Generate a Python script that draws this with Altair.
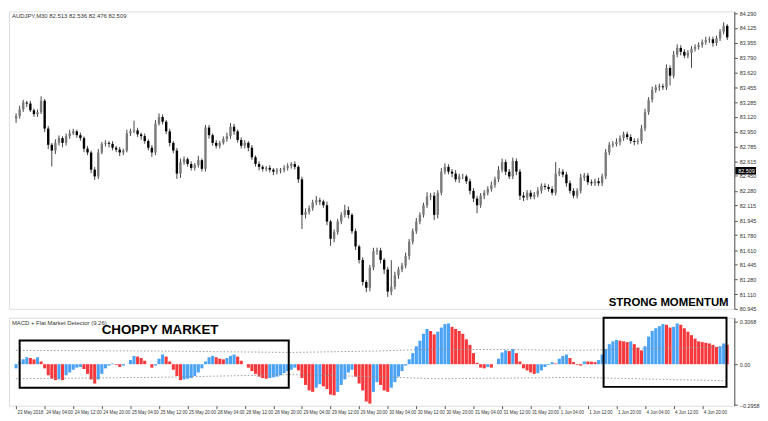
import altair as alt
import pandas as pd

# ---------------- data ----------------
first_open = 83.10
closes = [
    83.128, 83.204, 83.280, 83.269, 83.193, 83.149, 83.171, 83.301, 82.986, 82.802,
    82.737, 82.824, 82.878, 82.824, 82.900, 82.932, 82.954, 82.911, 82.878, 82.758,
    82.715, 82.520, 82.444, 82.715, 82.813, 82.824, 82.813, 82.769, 82.748, 82.715,
    82.737, 82.932, 82.954, 82.965, 82.921, 82.900, 82.845, 82.769, 82.715, 83.041,
    83.117, 83.063, 82.954, 82.824, 82.737, 82.476, 82.606, 82.639, 82.585, 82.541,
    82.574, 82.628, 82.530, 82.997, 82.911, 82.824, 82.791, 82.824, 82.867, 82.900,
    83.008, 82.954, 82.856, 82.791, 82.824, 82.769, 82.661, 82.585, 82.552, 82.530,
    82.541, 82.520, 82.498, 82.509, 82.520, 82.541, 82.563, 82.585, 82.552, 82.411,
    82.009, 82.042, 82.085, 82.150, 82.172, 82.161, 82.118, 81.933, 81.738, 81.814,
    81.933, 82.009, 82.063, 82.009, 81.824, 81.651, 81.499, 81.249, 81.184, 81.412,
    81.597, 81.607, 81.499, 81.390, 81.140, 81.195, 81.325, 81.390, 81.434, 81.542,
    81.705, 81.824, 81.933, 82.009, 82.118, 82.215, 82.226, 82.009, 82.259, 82.498,
    82.552, 82.498, 82.476, 82.411, 82.444, 82.444, 82.389, 82.281, 82.194, 82.118,
    82.226, 82.259, 82.302, 82.346, 82.411, 82.520, 82.606, 82.498, 82.444, 82.617,
    82.498, 82.226, 82.205, 82.259, 82.215, 82.237, 82.281, 82.335, 82.324, 82.302,
    82.259, 82.476, 82.498, 82.465, 82.367, 82.281, 82.226, 82.281, 82.433, 82.454,
    82.378, 82.367, 82.389, 82.367, 82.444, 82.715, 82.802, 82.813, 82.835, 82.878,
    82.921, 82.889, 82.845, 82.835, 82.845, 82.987, 83.171, 83.312, 83.421, 83.453,
    83.464, 83.453, 83.671, 83.584, 83.823, 83.899, 83.855, 83.812, 83.844, 83.888,
    83.910, 83.931, 83.964, 83.986, 83.996, 83.953, 84.007, 84.083, 84.149, 84.018,
]
# wick lengths beyond the body, in hundredths of a yen
upper_wick = [
    3, 4, 3, 2, 3, 2, 3, 5, 2, 3,   2, 4, 3, 2, 3, 4, 3, 2, 3, 2,
    3, 2, 3, 4, 2, 3, 2, 3, 2, 3,   2, 4, 3, 11, 3, 2, 3, 2, 3, 4,
    4, 3, 2, 3, 2, 3, 4, 3, 2, 3,   2, 5, 2, 3, 3, 2, 3, 2, 3, 4,
    4, 3, 2, 3, 3, 2, 3, 2, 3, 2,   2, 3, 2, 3, 2, 3, 3, 2, 3, 2,
    3, 4, 3, 3, 5, 3, 2, 4, 2, 3,   3, 3, 6, 4, 2, 3, 2, 3, 2, 3,
    4, 3, 3, 2, 3, 30, 4, 3, 3, 4,  3, 3, 4, 3, 3, 5, 3, 4, 3, 4,
    4, 3, 3, 4, 3, 3, 2, 3, 3, 3,   3, 3, 3, 4, 3, 4, 4, 3, 3, 4,
    3, 3, 4, 3, 3, 3, 4, 3, 3, 3,   3, 13, 4, 3, 3, 3, 3, 3, 4, 3,
    3, 3, 3, 4, 3, 4, 3, 3, 4, 3,   3, 3, 3, 3, 3, 4, 4, 3, 4, 3,
    3, 3, 4, 3, 4, 4, 3, 3, 3, 3,   3, 3, 3, 4, 3, 3, 3, 3, 4, 2,
]
lower_wick = [
    5, 3, 3, 4, 2, 3, 3, 2, 4, 5,   18, 4, 3, 5, 3, 3, 2, 3, 3, 4,
    3, 4, 4, 3, 2, 3, 4, 3, 3, 4,   3, 2, 3, 2, 3, 4, 3, 3, 5, 3,
    2, 3, 3, 4, 3, 6, 5, 3, 3, 3,   3, 3, 3, 3, 4, 3, 3, 3, 2, 3,
    3, 4, 3, 3, 3, 4, 3, 3, 4, 3,   3, 3, 4, 3, 3, 3, 3, 3, 3, 4,
    16, 4, 3, 3, 3, 4, 3, 4, 8, 4,  3, 3, 3, 4, 3, 4, 4, 4, 5, 4,
    3, 4, 4, 5, 6, 4, 3, 4, 3, 3,   4, 3, 3, 3, 3, 3, 4, 6, 4, 3,
    3, 3, 4, 3, 4, 3, 3, 4, 4, 9,   3, 4, 3, 3, 3, 3, 3, 4, 3, 3,
    4, 5, 4, 3, 3, 3, 3, 3, 3, 3,   3, 3, 3, 3, 4, 3, 3, 3, 3, 4,
    3, 3, 3, 3, 3, 3, 3, 3, 3, 4,   3, 3, 3, 4, 3, 3, 3, 3, 3, 3,
    4, 3, 3, 11, 3, 3, 4, 3, 3, 17, 3, 3, 3, 3, 3, 4, 3, 3, 3, 3,
]
macd = [
    -0.03, 0.02, 0.035, 0.05, 0.045, 0.035, 0.05, 0.02, -0.03, -0.08,
    -0.105, -0.115, -0.11, -0.115, -0.08, -0.06, -0.04, -0.025, -0.02, -0.035,
    -0.07, -0.11, -0.14, -0.11, -0.07, -0.03, -0.01, 0.005, -0.005, -0.02,
    -0.01, 0.0, 0.03, 0.06, 0.055, 0.045, 0.025, 0.0, -0.025, -0.01,
    0.04, 0.07, 0.055, 0.02, -0.04, -0.085, -0.115, -0.11, -0.105, -0.1,
    -0.085, -0.06, -0.03, 0.02, 0.05, 0.06, 0.05, 0.04, 0.035, 0.045,
    0.06, 0.07, 0.055, 0.025, 0.0, -0.025, -0.05, -0.07, -0.09, -0.1,
    -0.105, -0.1, -0.095, -0.09, -0.08, -0.065, -0.05, -0.04, -0.025, -0.045,
    -0.1, -0.15, -0.19, -0.2, -0.17, -0.145, -0.16, -0.18, -0.22, -0.225,
    -0.2, -0.15, -0.11, -0.06, -0.04, -0.09, -0.14, -0.19, -0.27, -0.285,
    -0.2, -0.13, -0.15, -0.19, -0.2, -0.17, -0.13, -0.09, -0.05, -0.01,
    0.035, 0.08, 0.13, 0.17, 0.22, 0.255, 0.24, 0.215, 0.235, 0.265,
    0.29, 0.295, 0.27, 0.255, 0.24, 0.22, 0.18, 0.14, 0.08, 0.01,
    -0.025, -0.03, -0.02, -0.025, 0.0, 0.04, 0.085, 0.1, 0.095, 0.11,
    0.08, 0.02, -0.03, -0.045, -0.06, -0.07, -0.065, -0.045, -0.02, -0.005,
    0.015, 0.005, 0.04, 0.06, 0.07, 0.045, 0.015, -0.005, -0.01, 0.02,
    0.02, 0.018, 0.015, 0.03, 0.07, 0.11, 0.145, 0.165, 0.175, 0.17,
    0.165, 0.16, 0.165, 0.145, 0.12, 0.1, 0.13, 0.2, 0.24, 0.26,
    0.275, 0.29, 0.285, 0.265, 0.27, 0.295, 0.285, 0.26, 0.235, 0.21,
    0.185, 0.165, 0.16, 0.155, 0.15, 0.14, 0.125, 0.13, 0.15, 0.14,
]
band_idx = [0, 40, 77, 100, 117, 140, 157, 181, 199]
band_upper = [0.10, 0.095, 0.085, 0.095, 0.108, 0.105, 0.10, 0.115, 0.125]
band_lower = [-0.105, -0.095, -0.075, -0.09, -0.105, -0.10, -0.095, -0.11, -0.12]

price_ticks = [84.290, 84.125, 83.955, 83.790, 83.620, 83.455, 83.285, 83.120, 82.950,
               82.785, 82.615, 82.450, 82.280, 82.115, 81.945, 81.780, 81.610, 81.445,
               81.280, 81.110, 80.945]
macd_ticks = [0.3068, 0.0, -0.2958]
time_labels = ["23 May 2018", "24 May 04:00", "24 May 12:00", "24 May 20:00",
               "25 May 04:00", "25 May 12:00", "25 May 20:00", "28 May 04:00",
               "28 May 12:00", "28 May 20:00", "29 May 04:00", "29 May 12:00",
               "29 May 20:00", "30 May 04:00", "30 May 12:00", "30 May 20:00",
               "31 May 04:00", "31 May 12:00", "31 May 20:00", "1 Jun 04:00",
               "1 Jun 12:00", "1 Jun 20:00", "4 Jun 04:00", "4 Jun 12:00", "4 Jun 20:00"]
label_step = 8
current_price = 82.509
header = "AUDJPY,M30  82.513 82.536 82.476 82.509"
macd_title = "MACD + Flat Market Detector (9.26)"

# annotation boxes (bar index / MACD value)
box_x1 = [1.0, 164.4]
box_x2 = [76.3, 198.8]
box_y1 = [-0.171, -0.164]
box_y2 = [0.171, 0.336]

# ---------------- build tables ----------------
n = len(closes)
opens = [first_open] + closes[:-1]
rows = []
for i in range(n):
    o, c = opens[i], closes[i]
    rows.append(dict(i=i, open=o, close=c,
                     high=max(o, c) + upper_wick[i] / 100.0,
                     low=min(o, c) - lower_wick[i] / 100.0,
                     bull=bool(c >= o)))
df = pd.DataFrame(rows)

mrows = []
for i in range(n):
    prev = macd[i - 1] if i > 0 else macd[i] - 0.01
    mrows.append(dict(i=i, v=macd[i], rising=bool(macd[i] > prev)))
mdf = pd.DataFrame(mrows)

bdf = pd.DataFrame({"i": band_idx * 2,
                    "v": band_upper + band_lower,
                    "band": ["upper"] * len(band_idx) + ["lower"] * len(band_idx)})
boxdf = pd.DataFrame({"x1": box_x1, "x2": box_x2, "y1": box_y1, "y2": box_y2})

W = 734
H1 = 301
H2 = 89
FONT = "Liberation Sans"

xscale = alt.Scale(domain=[-0.6, n - 0.4], nice=False, zero=False)
pscale = alt.Scale(domain=[80.945, 84.312], nice=False, zero=False)
mscale = alt.Scale(domain=[-0.30, 0.336], nice=False, zero=False)

# ---------------- price panel ----------------
pbase = alt.Chart(df)
wicks = pbase.mark_rule(color="#2e2e2e", strokeWidth=0.9).encode(
    x=alt.X("i:Q", scale=xscale, axis=None),
    y=alt.Y("low:Q", scale=pscale, title=None,
            axis=alt.Axis(orient="right", values=price_ticks, tickCount=100, format=".3f",
                          labelFontSize=5.5, labelFont=FONT, labelColor="#333",
                          labelOverlap=False, labelBound=False,
                          tickSize=3, tickColor="#555", domainColor="#555",
                          labelPadding=2, grid=False)),
    y2="high:Q",
)
bodies = pbase.mark_bar(size=2.4).encode(
    x="i:Q",
    y="open:Q",
    y2="close:Q",
    color=alt.condition("datum.bull", alt.value("#7a7a7a"), alt.value("#000000")),
)
header_txt = alt.Chart(pd.DataFrame({"t": [header]})).mark_text(
    align="left", baseline="top", fontSize=6, font=FONT, color="#333"
).encode(x=alt.value(3), y=alt.value(2), text="t:N")

strong_txt = alt.Chart(pd.DataFrame({"t": ["STRONG MOMENTUM"], "i": [182.6], "p": [81.01]})).mark_text(
    fontSize=11.5, font=FONT, fontWeight="bold", color="#000"
).encode(x="i:Q", y="p:Q", text="t:N")

cp_box = alt.Chart(pd.DataFrame({"p": [current_price]})).mark_rect(color="#000").encode(
    x=alt.value(W + 1), x2=alt.value(W + 22),
    y=alt.Y("hi:Q"), y2="lo:Q",
).transform_calculate(hi="datum.p + 0.042", lo="datum.p - 0.042")
cp_txt = alt.Chart(pd.DataFrame({"p": [current_price], "t": ["82.509"]})).mark_text(
    align="left", baseline="middle", fontSize=5.5, font=FONT, color="#fff"
).encode(x=alt.value(W + 4), y="p:Q", text="t:N")

price = alt.layer(wicks, bodies, header_txt, strong_txt, cp_box, cp_txt).properties(
    width=W, height=H1)

# ---------------- MACD panel ----------------
label_js = "[" + ",".join("'" + s + "'" for s in time_labels) + "]"
hist = alt.Chart(mdf).mark_bar(size=3.1).encode(
    x=alt.X("i:Q", scale=xscale, title=None,
            axis=alt.Axis(values=list(range(0, label_step * len(time_labels), label_step)),
                          tickCount=100,
                          labelExpr=label_js + "[round(datum.value / %d)]" % label_step,
                          labelAlign="left", labelFontSize=4.5, labelFont=FONT,
                          labelColor="#333", tickSize=3, tickColor="#555",
                          labelOverlap=False, labelBound=False,
                          labelPadding=1, labelOffset=1, domain=False, grid=False)),
    y=alt.Y("v:Q", scale=mscale, title=None,
            axis=alt.Axis(orient="right", values=macd_ticks, tickCount=100,
                          labelExpr="datum.value == 0 ? '0.00' : format(datum.value, '.4f')",
                          labelFontSize=5.5, labelFont=FONT, labelColor="#333",
                          labelOverlap=False,
                          tickSize=3, tickColor="#555", domainColor="#555",
                          labelPadding=2, grid=False)),
    color=alt.condition("datum.rising", alt.value("#4aa3f5"), alt.value("#f5383c")),
)
bands = alt.Chart(bdf).mark_line(color="#8f8f8f", strokeWidth=0.9, strokeDash=[1.5, 2]).encode(
    x="i:Q", y="v:Q", detail="band:N")
boxes = alt.Chart(boxdf).mark_rect(fill="transparent", stroke="#000", strokeWidth=2).encode(
    x="x1:Q", x2="x2:Q", y="y1:Q", y2="y2:Q")
choppy_txt = alt.Chart(pd.DataFrame({"t": ["CHOPPY MARKET"], "i": [40.3], "v": [0.245]})).mark_text(
    fontSize=13.5, font=FONT, fontWeight="bold", color="#000"
).encode(x="i:Q", y="v:Q", text="t:N")
macd_txt = alt.Chart(pd.DataFrame({"t": [macd_title]})).mark_text(
    align="left", baseline="top", fontSize=6, font=FONT, color="#333"
).encode(x=alt.value(3), y=alt.value(2), text="t:N")

macd_panel = alt.layer(hist, bands, boxes, choppy_txt, macd_txt).properties(width=W, height=H2)

chart = alt.vconcat(price, macd_panel, spacing=3).properties(padding=0).configure_view(
    stroke="#8a8a8a", strokeWidth=1
).configure(background="white")

chart.save("out.html", embed_options={"renderer": "svg", "actions": False})
